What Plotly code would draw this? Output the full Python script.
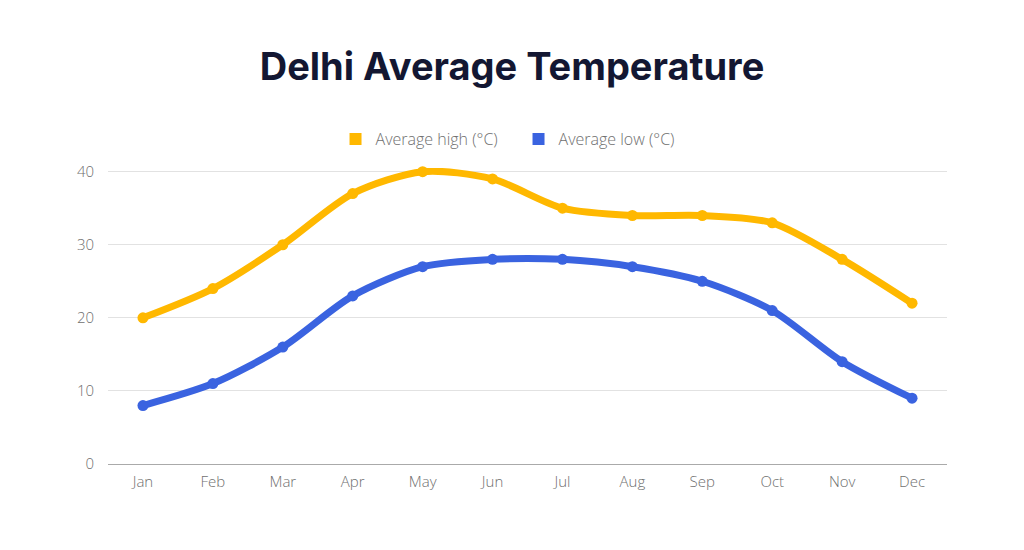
import plotly.graph_objects as go

months = ["Jan", "Feb", "Mar", "Apr", "May", "Jun", "Jul", "Aug", "Sep", "Oct", "Nov", "Dec"]
avg_high = [20, 24, 30, 37, 40, 39, 35, 34, 34, 33, 28, 22]
avg_low = [8, 11, 16, 23, 27, 28, 28, 27, 25, 21, 14, 9]
series_names = ["Average high (°C)", "Average low (°C)"]
colors = ["#FFB800", "#3A63E0"]

fig = go.Figure()
for name, vals, c in zip(series_names, [avg_high, avg_low], colors):
    fig.add_trace(go.Scatter(
        x=months, y=vals, name=name, mode="lines+markers",
        line=dict(color=c, width=7, shape="spline", smoothing=0.8),
        marker=dict(color=c, size=11),
        cliponaxis=False, showlegend=False,
    ))
for name, c in zip(series_names, colors):
    fig.add_trace(go.Scatter(
        x=[None], y=[None], name=name, mode="markers",
        marker=dict(color=c, size=12, symbol="square"), showlegend=True,
    ))

fig.update_layout(
    width=1024, height=550,
    paper_bgcolor="white", plot_bgcolor="white",
    margin=dict(l=108, r=77, t=168, b=86, autoexpand=False),
    title=dict(text="<b>Delhi Average Temperature</b>", x=0.5, xanchor="center",
               y=0.878, yanchor="middle",
               font=dict(family="Inter, Lato, sans-serif", size=38, color="#131732")),
    legend=dict(orientation="h", x=0.4893, xanchor="center", y=0.747, yanchor="middle",
                yref="container", font=dict(family="Open Sans", size=16, color="#6f6f6f", weight=300),
                itemwidth=30, entrywidth=138, traceorder="normal"),
    xaxis=dict(type="category", range=[-0.5, 11.5], showgrid=False, showline=True,
               linecolor="#aaaaaa", linewidth=1, ticks="outside", ticklen=4, tickcolor="white",
               tickfont=dict(family="Open Sans", size=15, color="#6f6f6f", weight=300)),
    yaxis=dict(range=[0, 40.5], tickvals=[0, 10, 20, 30, 40], showgrid=True,
               gridcolor="#e2e2e2", gridwidth=1, zeroline=False, showline=False,
               ticks="outside", ticklen=10, tickcolor="white",
               tickfont=dict(family="Open Sans", size=15, color="#6f6f6f", weight=300)),
    showlegend=True,
)

fig.write_html("out.html")
